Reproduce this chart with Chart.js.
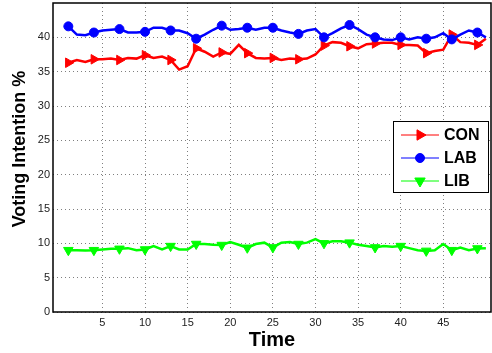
<!DOCTYPE html>
<html>
<head>
<meta charset="utf-8">
<script src="https://cdn.jsdelivr.net/npm/chart.js@4.4.0/dist/chart.umd.min.js"></script>
<style>
  html, body { margin: 0; padding: 0; background: #fff; }
  #chart { display: block; }
</style>
</head>
<body>
<canvas id="chart" width="492" height="353"></canvas>
<script>
// ---- data ----
const timePoints = [1, 2, 3, 4, 5, 6, 7, 8, 9, 10, 11, 12, 13, 14, 15, 16, 17, 18, 19, 20,
  21, 22, 23, 24, 25, 26, 27, 28, 29, 30, 31, 32, 33, 34, 35, 36, 37, 38, 39, 40,
  41, 42, 43, 44, 45, 46, 47, 48, 49, 50];

const conValues = [36.3, 36.7, 36.4, 36.8, 36.8, 36.9, 36.7, 37.0, 36.9, 37.4,
  37.0, 37.2, 36.7, 35.3, 35.8, 38.4, 37.9, 37.2, 37.8, 37.6,
  38.9, 37.7, 37.0, 36.9, 37.0, 36.7, 36.9, 36.8, 36.9, 37.5,
  38.8, 39.3, 39.2, 38.7, 38.4, 39.0, 39.1, 39.2, 39.2, 38.9,
  38.9, 38.8, 37.7, 38.0, 38.2, 40.4, 39.3, 39.2, 38.9, 39.8];

const labValues = [41.6, 40.4, 40.3, 40.7, 41.0, 41.1, 41.2, 40.7, 40.7, 40.8,
  41.4, 41.4, 41.0, 41.0, 40.6, 39.8, 40.4, 41.1, 41.7, 41.1,
  41.2, 41.4, 41.1, 41.4, 41.4, 41.0, 40.7, 40.5, 41.0, 41.2,
  40.0, 40.6, 41.3, 41.8, 41.2, 40.4, 40.0, 39.7, 39.6, 40.0,
  39.7, 40.0, 39.8, 40.0, 40.6, 39.7, 40.4, 41.0, 40.7, 40.0];

const libValues = [9.0, 9.0, 8.95, 9.0, 9.1, 9.2, 9.2, 9.3, 9.0, 9.1,
  9.6, 9.1, 9.6, 9.1, 9.1, 9.9, 9.9, 9.8, 9.75, 10.2,
  9.8, 9.35, 9.9, 10.1, 9.4, 10.1, 10.2, 9.9, 10.1, 10.6,
  10.0, 10.3, 10.3, 10.1, 9.8, 9.6, 9.4, 9.6, 9.5, 9.6,
  9.3, 9.0, 8.9, 9.0, 9.9, 9.0, 9.4, 9.0, 9.25, 9.3];

const xTickValues = [5, 10, 15, 20, 25, 30, 35, 40, 45];
const yTickValues = [0, 5, 10, 15, 20, 25, 30, 35, 40];

const seriesLabels = ["CON", "LAB", "LIB"];
const xTitle = "Time";
const yTitle = "Voting Intention %";

// markers only on every third sample (1, 4, 7, ...)
function markerEvery3(r) {
  return (ctx) => (ctx.dataIndex % 3 === 0 ? r : 0);
}

function toPoints(values) {
  return values.map((v, i) => ({ x: timePoints[i], y: v }));
}

function makeSeries(label, values, color, style, rotation, radius, order) {
  return {
    label: label,
    data: toPoints(values),
    borderColor: color,
    backgroundColor: color,
    borderWidth: 2.5,
    tension: 0,
    pointStyle: style,
    rotation: rotation,
    pointRadius: markerEvery3(radius),
    pointHoverRadius: markerEvery3(radius),
    pointBackgroundColor: color,
    pointBorderColor: color,
    pointBorderWidth: 1,
    order: order,
  };
}

// frame, axis titles and the boxed legend (MATLAB style)
const matlabDecor = {
  id: "matlabDecor",
  afterDraw(chart) {
    const { ctx, chartArea } = chart;
    ctx.save();

    // axes box
    ctx.strokeStyle = "#000";
    ctx.lineWidth = 1.5;
    ctx.strokeRect(chartArea.left, chartArea.top,
      chartArea.right - chartArea.left, chartArea.bottom - chartArea.top);

    // titles
    ctx.fillStyle = "#000";
    ctx.textAlign = "center";
    ctx.textBaseline = "middle";
    ctx.font = "bold 20px 'Liberation Sans', Arial, sans-serif";
    ctx.fillText(xTitle, (chartArea.left + chartArea.right) / 2, 340);

    ctx.save();
    ctx.translate(20, 149);
    ctx.rotate(-Math.PI / 2);
    ctx.font = "bold 18px 'Liberation Sans', Arial, sans-serif";
    ctx.fillText(yTitle, 0, 0);
    ctx.restore();

    // legend
    const bx = 393, by = 121, bw = 95, bh = 71;
    ctx.fillStyle = "#fff";
    ctx.fillRect(bx, by, bw, bh);
    ctx.strokeStyle = "#000";
    ctx.lineWidth = 1;
    ctx.strokeRect(bx + 0.5, by + 0.5, bw, bh);

    const rowY = [135, 158, 181];
    chart.data.datasets.forEach((ds, i) => {
      const y = rowY[i];
      ctx.strokeStyle = ds.borderColor;
      ctx.lineWidth = 1;
      ctx.beginPath();
      ctx.moveTo(401, y);
      ctx.lineTo(439, y);
      ctx.stroke();

      ctx.fillStyle = ds.borderColor;
      ctx.strokeStyle = ds.borderColor;
      Chart.helpers.drawPoint(ctx, {
        pointStyle: ds.pointStyle,
        rotation: ds.rotation,
        radius: ds.pointStyle === "circle" ? 4.5 : 6,
        borderWidth: 1,
      }, 420, y);

      ctx.fillStyle = "#000";
      ctx.textAlign = "left";
      ctx.textBaseline = "middle";
      ctx.font = "bold 16px 'Liberation Sans', Arial, sans-serif";
      ctx.fillText(ds.label, 444, y + 1);
    });

    ctx.restore();
  },
};

const gridStyle = {
  color: "rgba(0, 0, 0, 0.5)",
  lineWidth: 1,
  drawTicks: false,
};

function noEdgePadding(scale) {
  scale.paddingTop = 0;
  scale.paddingBottom = 0;
  scale.paddingLeft = 0;
  scale.paddingRight = 0;
}

new Chart(document.getElementById("chart"), {
  type: "line",
  data: {
    datasets: [
      makeSeries(seriesLabels[0], conValues, "#ff0000", "triangle", 90, 5.5, 2),
      makeSeries(seriesLabels[1], labValues, "#0000ff", "circle", 0, 4.5, 1),
      makeSeries(seriesLabels[2], libValues, "#00ff00", "triangle", 180, 5.5, 0),
    ],
  },
  options: {
    responsive: false,
    animation: false,
    events: [],
    layout: { autoPadding: false, padding: { top: 3, right: 1, left: 0, bottom: 0 } },
    plugins: {
      legend: { display: false },
      tooltip: { enabled: false },
    },
    scales: {
      x: {
        type: "linear",
        min: -0.8,
        max: 50.6,
        grid: gridStyle,
        border: { display: false, dash: [1, 3] },
        afterBuildTicks: (scale) => {
          scale.ticks = xTickValues.map((v) => ({ value: v }));
        },
        afterFit: (scale) => {
          scale.height = 41;
          noEdgePadding(scale);
        },
        ticks: {
          padding: 4,
          color: "#222",
          font: { family: "'Liberation Sans', Arial, sans-serif", size: 11 },
          maxRotation: 0,
        },
      },
      y: {
        min: 0,
        max: 45,
        grid: gridStyle,
        border: { display: false, dash: [1, 3] },
        afterBuildTicks: (scale) => {
          scale.ticks = yTickValues.map((v) => ({ value: v }));
        },
        afterFit: (scale) => {
          scale.width = 53;
          noEdgePadding(scale);
        },
        ticks: {
          padding: 3,
          color: "#222",
          font: { family: "'Liberation Sans', Arial, sans-serif", size: 11 },
        },
      },
    },
  },
  plugins: [matlabDecor],
});
</script>
</body>
</html>
